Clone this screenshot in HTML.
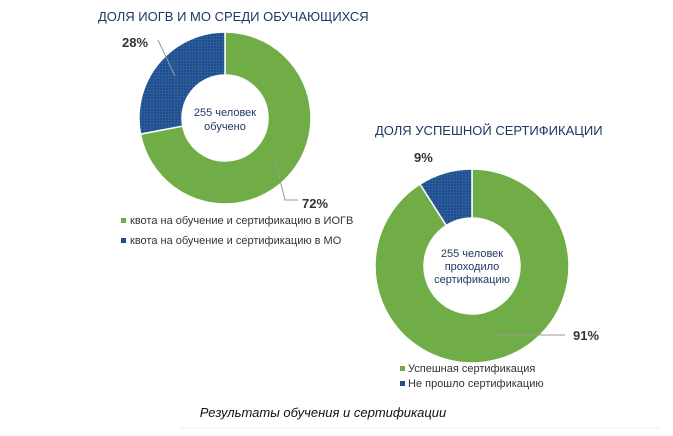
<!DOCTYPE html>
<html><head><meta charset="utf-8"><style>
body{margin:0;background:#fff;width:673px;height:431px;overflow:hidden;font-family:"Liberation Sans","DejaVu Sans",sans-serif}
svg text{font-family:"Liberation Sans","DejaVu Sans",sans-serif}
</style></head><body>
<svg width="673" height="431">
<defs>
<pattern id="grid" width="3" height="3" patternUnits="userSpaceOnUse">
<rect width="3" height="3" fill="#1f4e8c"/><path d="M0 0H3M0 0V3" stroke="#3f6fb0" stroke-width="0.7"/>
</pattern>
</defs>
<text x="98" y="21" font-size="13" fill="#1f3864">ДОЛЯ ИОГВ И МО СРЕДИ ОБУЧАЮЩИХСЯ</text>
<g id="c1"></g>
<text x="225" y="116" font-size="11" fill="#1f3864" text-anchor="middle">255 человек</text>
<text x="225" y="130" font-size="11" fill="#1f3864" text-anchor="middle">обучено</text>
<path d="M158 40 L175 76" stroke="#999" fill="none"/>
<path d="M275 160 L285 200 L298 200" stroke="#999" fill="none"/>
<text x="122" y="47" font-size="13" font-weight="bold" fill="#333">28%</text>
<text x="302" y="208" font-size="13" font-weight="bold" fill="#333">72%</text>
<rect x="121" y="218" width="5" height="5" fill="#70ad47"/>
<text x="130" y="224" font-size="11" fill="#333">квота на обучение и сертификацию в ИОГВ</text>
<rect x="121" y="238" width="5" height="5" fill="#1f4e8c"/>
<text x="130" y="244" font-size="11" fill="#333">квота на обучение и сертификацию в МО</text>

<text x="375" y="135" font-size="13" fill="#1f3864">ДОЛЯ УСПЕШНОЙ СЕРТИФИКАЦИИ</text>
<g id="c2"></g>
<text x="472" y="257" font-size="11" fill="#1f3864" text-anchor="middle">255 человек</text>
<text x="472" y="270" font-size="11" fill="#1f3864" text-anchor="middle">проходило</text>
<text x="472" y="283" font-size="11" fill="#1f3864" text-anchor="middle">сертификацию</text>
<path d="M497 335 L565 335" stroke="#999" fill="none"/>
<text x="414" y="162" font-size="13" font-weight="bold" fill="#333">9%</text>
<text x="573" y="340" font-size="13" font-weight="bold" fill="#333">91%</text>
<rect x="400" y="366" width="5" height="5" fill="#70ad47"/>
<text x="408" y="372" font-size="11" fill="#333">Успешная сертификация</text>
<rect x="400" y="381" width="5" height="5" fill="#1f4e8c"/>
<text x="408" y="387" font-size="11" fill="#333">Не прошло сертификацию</text>

<text x="323" y="417" font-size="13" font-style="italic" fill="#111" text-anchor="middle">Результаты обучения и сертификации</text>
<path d="M180 428 H660" stroke="#eee"/>
</svg>
<script>
const chart1Values=[72,28];
const chart2Values=[91,9];
const fills=["#70ad47","url(#grid)"];
function arc(cx,cy,r0,r1,a0,a1){
 const p=(r,a)=>[cx+r*Math.sin(a),cy-r*Math.cos(a)];
 const L=a1-a0>Math.PI?1:0;
 const [x0,y0]=p(r1,a0),[x1,y1]=p(r1,a1),[x2,y2]=p(r0,a1),[x3,y3]=p(r0,a0);
 return `M${x0} ${y0}A${r1} ${r1} 0 ${L} 1 ${x1} ${y1}L${x2} ${y2}A${r0} ${r0} 0 ${L} 0 ${x3} ${y3}Z`;
}
function donut(id,vals,cx,cy,r0,r1,names){
 const g=document.getElementById(id);
 const tot=vals.reduce((a,b)=>a+b,0);let a=0;
 vals.forEach((v,i)=>{
  const a1=a+v/tot*2*Math.PI;
  const p=document.createElementNS("http://www.w3.org/2000/svg","path");
  p.setAttribute("d",arc(cx,cy,r0,r1,a,a1));
  p.setAttribute("fill",fills[i]);
  p.setAttribute("stroke","#fff");
  p.setAttribute("stroke-width","1.5");
  
  
  g.appendChild(p);a=a1;
 });
}
donut("c1",chart1Values,225,118,43,86,["slice-iogv","slice-mo"]);
donut("c2",chart2Values,472,266,48,97,["slice-success","slice-fail"]);
</script>
</body></html>
